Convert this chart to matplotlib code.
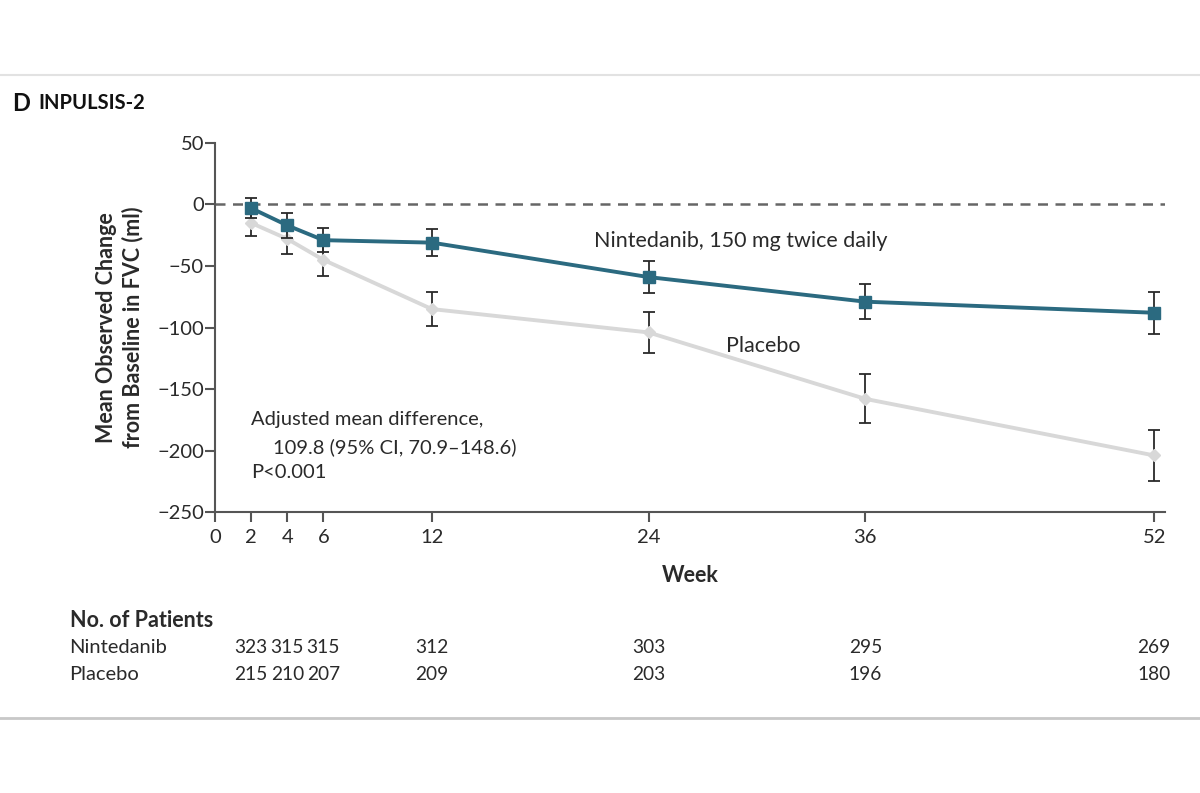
#!/usr/bin/env python3

import matplotlib.pyplot as plt
from matplotlib.lines import Line2D

plt.rcParams["font.family"] = ["Lato", "DejaVu Sans"]

# -------------------------------------------------
# Data
# -------------------------------------------------

weeks = [2, 4, 6, 12, 24, 36, 52]
x_ticks = [0, 2, 4, 6, 12, 24, 36, 52]

nint_mean = [-3, -17, -29, -31, -59, -79, -88]
nint_err = [8, 10, 10, 11, 13, 14, 17]

plac_mean = [-15, -28, -45, -85, -104, -158, -204]
plac_err = [11, 12, 13, 14, 17, 20, 21]

nint_n = [323, 315, 315, 312, 303, 295, 269]
plac_n = [215, 210, 207, 209, 203, 196, 180]

teal = "#2b6a80"
grey = "#d8d8d8"
ink = "#2a2a2a"

# -------------------------------------------------
# Plot
# -------------------------------------------------

fig = plt.figure(figsize=(12, 7.93), dpi=100)
ax = fig.add_axes([0.1792, 0.3543, 0.7917, 0.4654])

ax.axhline(0, color="#666666", lw=1.8, ls=(0, (4, 3)), zorder=1)

# Placebo
ax.errorbar(weeks, plac_mean, yerr=plac_err, fmt="none", ecolor=ink,
            elinewidth=1.3, capsize=4, capthick=1.3, zorder=2)
ax.plot(weeks, plac_mean, color=grey, lw=2.8, marker="D", markersize=6,
        markerfacecolor=grey, markeredgecolor=grey, zorder=3)

# Nintedanib
ax.errorbar(weeks, nint_mean, yerr=nint_err, fmt="none", ecolor=ink,
            elinewidth=1.3, capsize=4, capthick=1.3, zorder=4)
ax.plot(weeks, nint_mean, color=teal, lw=2.8, marker="s", markersize=9,
        markerfacecolor=teal, markeredgecolor=teal, zorder=5)

ax.set_xlim(0, 52.6)
ax.set_ylim(-250, 50)
ax.set_xticks(x_ticks)
ax.set_yticks([50, 0, -50, -100, -150, -200, -250])
ax.set_yticklabels(["50", "0", "\u221250", "\u2212100", "\u2212150",
                    "\u2212200", "\u2212250"])

for side in ["top", "right"]:
    ax.spines[side].set_visible(False)
for side in ["left", "bottom"]:
    ax.spines[side].set_color("#555555")
    ax.spines[side].set_linewidth(1.5)

ax.tick_params(axis="both", labelsize=14.5, colors="#555555", labelcolor=ink,
               width=1.5, length=7, direction="out")
ax.tick_params(axis="y", pad=1)
ax.tick_params(axis="x", pad=5)

ax.set_xlabel("Week", fontsize=15.5, fontweight="bold", color=ink, labelpad=14)
ax.set_ylabel("Mean Observed Change\nfrom Baseline in FVC (ml)", fontsize=15.5,
              fontweight="bold", color=ink, labelpad=10, linespacing=1.25)

# Annotations
ax.text(21.0, -30, "Nintedanib, 150 mg twice daily", fontsize=15.5, color=ink,
        va="center", ha="left")
ax.text(28.3, -115, "Placebo", fontsize=15.5, color=ink, va="center", ha="left")
ax.text(2.0, -175, "Adjusted mean difference,", fontsize=14.5, color=ink,
        va="center")
ax.text(3.2, -197, "109.8 (95% CI, 70.9\u2013148.6)", fontsize=14.5,
        color=ink, va="center")
ax.text(2.0, -218, "P<0.001", fontsize=14.5, color=ink, va="center")

# Header
fig.text(0.010, 0.870, "D", fontsize=17, fontweight="bold", color="#111111",
         va="center")
fig.text(0.032, 0.870, "INPULSIS-2", fontsize=14.5, fontweight="bold",
         color="#111111", va="center")

# Numbers at risk
fig.text(0.058, 0.218, "No. of Patients", fontsize=15.5, fontweight="bold",
         color=ink, va="center")
fig.text(0.058, 0.183, "Nintedanib", fontsize=14.5, color=ink, va="center")
fig.text(0.058, 0.150, "Placebo", fontsize=14.5, color=ink, va="center")

for w, a, b in zip(weeks, nint_n, plac_n):
    xf = fig.transFigure.inverted().transform(ax.transData.transform((w, 0)))[0]
    fig.text(xf, 0.183, str(a), fontsize=13.8, color=ink, ha="center",
             va="center")
    fig.text(xf, 0.150, str(b), fontsize=13.8, color=ink, ha="center",
             va="center")

# Frame rules
fig.add_artist(Line2D([0, 1], [0.905, 0.905], color="#e2e2e2", lw=1.5,
                      transform=fig.transFigure))
fig.add_artist(Line2D([0, 1], [0.095, 0.095], color="#c8c8c8", lw=2,
                      transform=fig.transFigure))

fig.savefig("out.png", dpi=100)
